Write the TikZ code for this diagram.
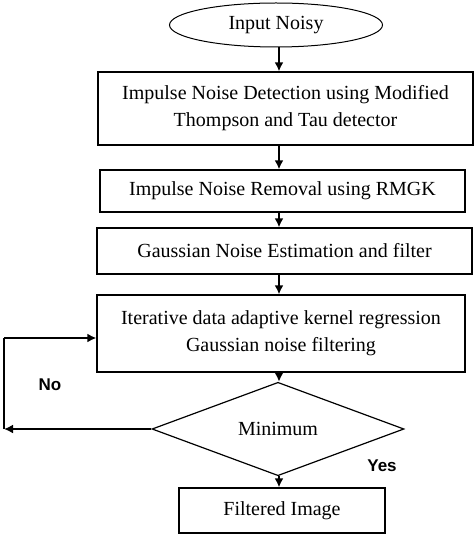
\documentclass[tikz,border=0pt]{standalone}
\usepackage{fontspec}
\setmainfont{Liberation Serif}
\newfontfamily\labelfont{Liberation Sans}
\usetikzlibrary{shapes.geometric,arrows.meta}

\begin{document}
\begin{tikzpicture}[x=1pt,y=-1pt,
  every node/.style={font=\fontsize{20}{27}\selectfont, inner sep=0pt},
  box/.style={draw, line width=1.3pt, align=center},
  arr/.style={-{Latex[length=9pt,width=9pt]}, line width=2pt},
  yesno/.style={font=\labelfont\bfseries\fontsize{17}{17}\selectfont}]
\useasboundingbox (0,0) rectangle (474,534);
% blocks
\node[draw, ellipse, line width=1pt, minimum width=213pt, minimum height=44pt] (in) at (276,25) {Input Noisy};
\node[box, minimum width=375pt, minimum height=73pt] (det) at (285.5,108.5) {Impulse Noise Detection using Modified\\Thompson and Tau detector};
\node[box, minimum width=365pt, minimum height=42pt] (rem) at (282.5,191) {Impulse Noise Removal using RMGK};
\node[box, minimum width=375pt, minimum height=46pt] (est) at (284.5,251) {Gaussian Noise Estimation and filter};
\node[box, minimum width=368pt, minimum height=77pt] (iter) at (281,333.5) {Iterative data adaptive kernel regression\\Gaussian noise filtering};
\node[draw, diamond, line width=1.2pt, minimum width=252pt, minimum height=77pt] (dec) at (278,429) {Minimum};
\node[box, minimum width=206pt, minimum height=45pt] (out) at (282,510.5) {Filtered Image};
\coordinate (axis) at (279,0);
% arrows
\draw[arr] (in.south -| axis) -- (det.north -| axis);
\draw[arr] (det.south -| axis) -- (rem.north -| axis);
\draw[arr] (rem.south -| axis) -- (est.north -| axis);
\draw[arr] (est.south -| axis) -- (iter.north -| axis);
\draw[arr] (iter.south -| axis) -- (dec.north -| axis);
\draw[arr] (dec.south -| axis) -- (out.north -| axis);
% loop back
\coordinate (nol) at (4,429);
\coordinate (nou) at (4,338);
\draw[arr, line width=2.5pt] (dec.west) -- (nol);
\draw[line width=2.5pt] (nol) -- (nou);
\draw[arr] (nou) -- (nou -| iter.west);
\node[yesno] (no) at (50,385) {No};
\node[yesno] (yes) at (382,466) {Yes};
\end{tikzpicture}
\end{document}
